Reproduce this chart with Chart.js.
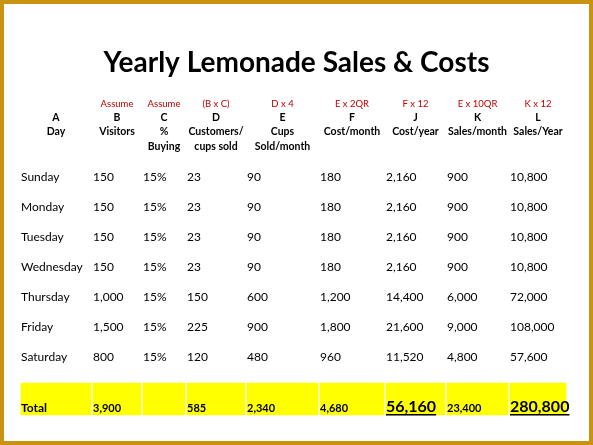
<!DOCTYPE html>
<html><head><meta charset="utf-8">
<script src="https://cdn.jsdelivr.net/npm/chart.js@4.4.1/dist/chart.umd.min.js"></script>
<style>html,body{margin:0;padding:0;background:#fff}#wrap{width:593px;height:445px;position:relative}</style>
</head><body><div id="wrap"><canvas id="c"></canvas></div>
<script>
// ---- data ----
const chartTitle = 'Yearly Lemonade Sales & Costs';
const formulas = ['', 'Assume', 'Assume', '(B x C)', 'D x 4', 'E x 2QR', 'F x 12', 'E x 10QR', 'K x 12'];
const letters = ['A', 'B', 'C', 'D', 'E', 'F', 'J', 'K', 'L'];
const colNames = [['Day'], ['Visitors'], ['%', 'Buying'], ['Customers/', 'cups sold'], ['Cups', 'Sold/month'], ['Cost/month'], ['Cost/year'], ['Sales/month'], ['Sales/Year']];
const days = ['Sunday', 'Monday', 'Tuesday', 'Wednesday', 'Thursday', 'Friday', 'Saturday'];
const visitors = [150, 150, 150, 150, 1000, 1500, 800];
const pctBuying = [15, 15, 15, 15, 15, 15, 15];
const customers = [23, 23, 23, 23, 150, 225, 120];
const cupsMonth = [90, 90, 90, 90, 600, 900, 480];
const costMonth = [180, 180, 180, 180, 1200, 1800, 960];
const costYear = [2160, 2160, 2160, 2160, 14400, 21600, 11520];
const salesMonth = [900, 900, 900, 900, 6000, 9000, 4800];
const salesYear = [10800, 10800, 10800, 10800, 72000, 108000, 57600];
const totalLabel = 'Total';
const totals = [3900, null, 585, 2340, 4680, 56160, 23400, 280800];
const highlightTotals = [false, false, false, false, false, true, false, true];

// ---- layout (not data) ----
const COL_EDGES = [20, 92, 142, 186, 246, 319, 385, 446, 509, 567];
const TOTAL_ROW = 7.4;
const HDR_ROWS = [-2.43, -1.97, -1.5, -1.0];
const TITLE_ROW = -3.8;
const FONT = 'Lato, "Open Sans", sans-serif';

const fmt = v => v.toLocaleString('en-US');
const columns = [days, visitors.map(fmt), pctBuying.map(v => v + '%'), customers.map(fmt), cupsMonth.map(fmt), costMonth.map(fmt), costYear.map(fmt), salesMonth.map(fmt), salesYear.map(fmt)];

const totalCells = letters.map((l, i) => ({ x: [COL_EDGES[i], COL_EDGES[i + 1]], y: TOTAL_ROW }));

const tablePlugin = {
  id: 'tableText',
  beforeDraw(chart) {
    const { ctx, width, height } = chart;
    ctx.save();
    ctx.fillStyle = '#fff';
    ctx.fillRect(0, 0, width, height);
    ctx.restore();
  },
  afterDraw(chart) {
    const { ctx, width, height } = chart;
    const xs = chart.scales.x, ys = chart.scales.y;
    ctx.save();
    // frame
    ctx.strokeStyle = '#C99210';
    ctx.lineWidth = 8;
    ctx.strokeRect(0, 0, width, height);
    // title
    ctx.fillStyle = '#000';
    ctx.textAlign = 'center';
    ctx.textBaseline = 'middle';
    ctx.font = 'bold 28px ' + FONT;
    ctx.fillText(chartTitle, width / 2, ys.getPixelForValue(TITLE_ROW));
    // header
    letters.forEach((l, i) => {
      const cx = (xs.getPixelForValue(COL_EDGES[i]) + xs.getPixelForValue(COL_EDGES[i + 1])) / 2;
      ctx.font = '9.5px ' + FONT;
      ctx.fillStyle = '#C00000';
      if (formulas[i]) ctx.fillText(formulas[i], cx, ys.getPixelForValue(HDR_ROWS[0]));
      ctx.fillStyle = '#000';
      ctx.font = 'bold 10.5px ' + FONT;
      ctx.fillText(l, cx, ys.getPixelForValue(HDR_ROWS[1]));
      colNames[i].forEach((n, k) => ctx.fillText(n, cx, ys.getPixelForValue(HDR_ROWS[2 + k])));
    });
    // body rows
    ctx.textAlign = 'left';
    ctx.font = '12px ' + FONT;
    days.forEach((d, r) => {
      const y = ys.getPixelForValue(r);
      columns.forEach((col, i) => {
        ctx.fillText(col[r], xs.getPixelForValue(COL_EDGES[i]) + 1, y);
      });
    });
    // totals
    ctx.textBaseline = 'alphabetic';
    const ty = ys.getPixelForValue(TOTAL_ROW) + 13;
    ctx.font = 'bold 12px ' + FONT;
    ctx.fillText(totalLabel, xs.getPixelForValue(COL_EDGES[0]) + 1, ty);
    totals.forEach((v, k) => {
      if (v == null) return;
      const x = xs.getPixelForValue(COL_EDGES[k + 1]) + 1;
      const big = highlightTotals[k];
      ctx.font = (big ? 'bold 16px ' : 'bold 11px ') + FONT;
      const s = fmt(v);
      ctx.fillText(s, x, ty);
      if (big) {
        const w = ctx.measureText(s).width;
        ctx.fillRect(x, ty + 2, w, 1.5);
      }
    });
    ctx.restore();
  }
};

new Chart(document.getElementById('c'), {
  type: 'bar',
  data: {
    datasets: [{
      label: totalLabel,
      data: totalCells,
      backgroundColor: '#FFFF00',
      borderColor: 'rgba(255,255,255,0.45)',
      borderWidth: 1,
      borderSkipped: false,
      barThickness: 34
    }]
  },
  options: {
    indexAxis: 'y',
    responsive: true,
    maintainAspectRatio: false,
    animation: false,
    layout: { padding: 0 },
    scales: {
      x: { type: 'linear', display: false, min: 0, max: 593, offset: false },
      y: { type: 'linear', display: false, reverse: true, min: -5.9, max: 8.933, offset: false }
    },
    plugins: { legend: { display: false }, tooltip: { enabled: false }, title: { display: false } }
  },
  plugins: [tablePlugin]
});
</script>
</body></html>
